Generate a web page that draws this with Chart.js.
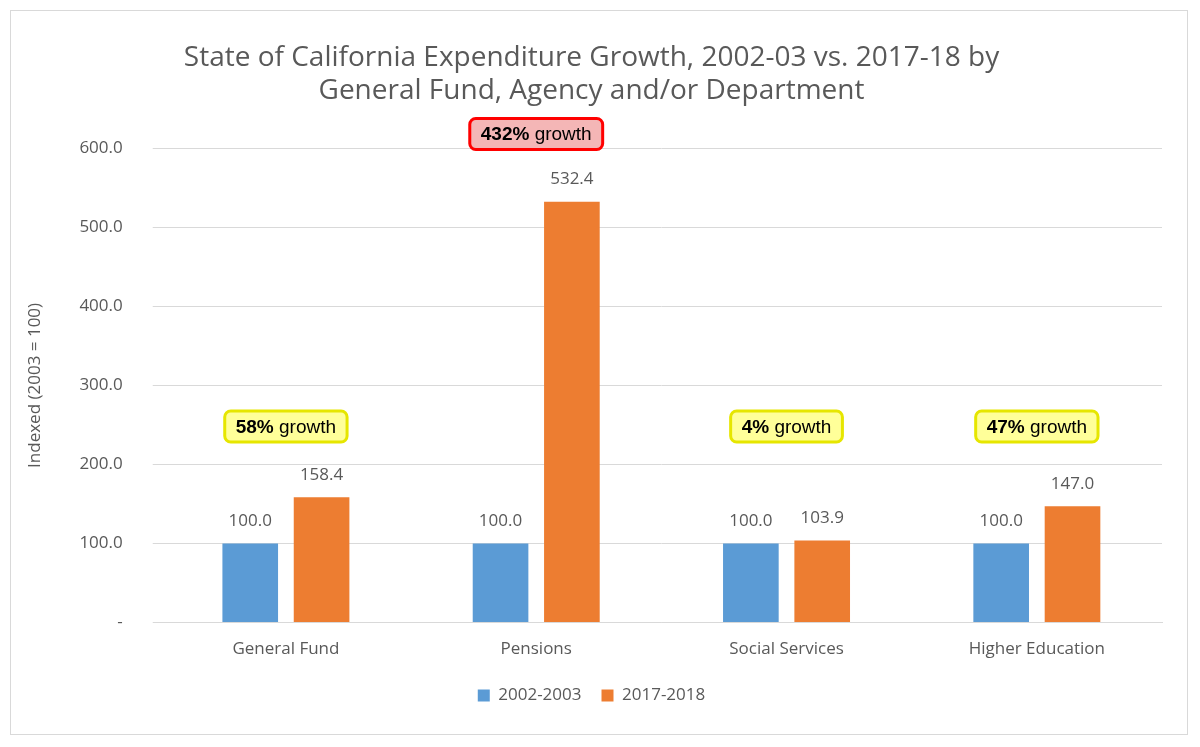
<!DOCTYPE html>
<html>
<head>
<meta charset="utf-8">
<script src="https://cdn.jsdelivr.net/npm/chart.js@4/dist/chart.umd.min.js"></script>
<style>
  body { margin: 0; background: #fff; }
  #frame { position: absolute; left: 10px; top: 10px; width: 1176px; height: 723px; border: 1px solid #d9d9d9; }
  #wrap { position: absolute; left: 0; top: 0; width: 1176px; height: 723px; }
</style>
</head>
<body>
<div id="frame"><div id="wrap"><canvas id="chart"></canvas></div></div>
<script>
// Chart data
const categories = ['General Fund', 'Pensions', 'Social Services', 'Higher Education'];
const series2002 = [100.0, 100.0, 100.0, 100.0];
const series2017 = [158.4, 532.4, 103.9, 147.0];
const growthPct = ['58%', '432%', '4%', '47%'];
const growthY = [248, 618, 248, 248];
const highlightIdx = 1;

const FONT = "'Open Sans', sans-serif";
const GRAY = '#595959';

// Value labels above bars
const valueLabels = {
    id: 'valueLabels',
    afterDatasetsDraw(chart) {
        const ctx = chart.ctx;
        ctx.save();
        ctx.font = '17px ' + FONT;
        ctx.fillStyle = GRAY;
        ctx.textAlign = 'center';
        ctx.textBaseline = 'bottom';
        chart.data.datasets.forEach((ds, i) => {
            chart.getDatasetMeta(i).data.forEach((bar, j) => {
                ctx.fillText(ds.data[j].toFixed(1), bar.x, bar.y - 14);
            });
        });
        ctx.restore();
    }
};

// Growth callout boxes
const growthBoxes = {
    id: 'growthBoxes',
    afterDraw(chart) {
        const ctx = chart.ctx;
        const xs = chart.scales.x, ys = chart.scales.y;
        ctx.save();
        ctx.textBaseline = 'middle';
        growthPct.forEach((pct, i) => {
            const cx = xs.getPixelForValue(i);
            const cy = ys.getPixelForValue(growthY[i]);
            ctx.font = 'bold 19px Arial, sans-serif';
            const w1 = ctx.measureText(pct).width;
            ctx.font = '19px Arial, sans-serif';
            const w2 = ctx.measureText(' growth').width;
            const w = w1 + w2 + 22, h = 31;
            const x0 = cx - w / 2, y0 = cy - h / 2;
            const hi = i === highlightIdx;
            ctx.beginPath();
            ctx.roundRect(x0, y0, w, h, 6);
            ctx.fillStyle = hi ? '#f4b6b6' : '#ffff99';
            ctx.fill();
            ctx.lineWidth = 3;
            ctx.strokeStyle = hi ? '#ff0000' : '#e6e600';
            ctx.stroke();
            ctx.fillStyle = '#000';
            ctx.textAlign = 'left';
            ctx.font = 'bold 19px Arial, sans-serif';
            ctx.fillText(pct, x0 + 11, cy + 1);
            ctx.font = '19px Arial, sans-serif';
            ctx.fillText(' growth', x0 + 11 + w1, cy + 1);
        });
        ctx.restore();
    }
};

new Chart(document.getElementById('chart'), {
    type: 'bar',
    data: {
        labels: categories,
        datasets: [
            { label: '2002-2003', data: series2002, backgroundColor: '#5b9bd5' },
            { label: '2017-2018', data: series2017, backgroundColor: '#ed7d31' }
        ]
    },
    options: {
        responsive: true,
        maintainAspectRatio: false,
        animation: false,
        categoryPercentage: 0.57,
        barPercentage: 0.78,
        layout: { padding: { left: 10, right: 25, top: 20, bottom: 20 } },
        scales: {
            x: {
                grid: { display: false },
                border: { color: '#d9d9d9' },
                ticks: { color: GRAY, font: { family: FONT, size: 17 }, padding: 8 }
            },
            y: {
                min: 0,
                max: 600,
                ticks: {
                    stepSize: 100,
                    color: GRAY,
                    padding: 30,
                    font: { family: FONT, size: 17 },
                    callback: v => v === 0 ? '-' : v.toFixed(1)
                },
                grid: { color: '#d9d9d9' },
                border: { display: false },
                title: { display: true, text: 'Indexed (2003 = 100)', color: GRAY, font: { family: FONT, size: 17 } }
            }
        },
        plugins: {
            title: {
                display: true,
                text: ['State of California Expenditure Growth, 2002-03 vs. 2017-18 by', 'General Fund, Agency and/or Department'],
                color: GRAY,
                font: { family: FONT, size: 28, weight: 'normal' },
                padding: { top: 10, bottom: 40 }
            },
            legend: {
                position: 'bottom',
                labels: { color: GRAY, font: { family: FONT, size: 17 }, boxWidth: 12, boxHeight: 12, padding: 20 }
            },
            tooltip: { enabled: false }
        }
    },
    plugins: [valueLabels, growthBoxes]
});
</script>
</body>
</html>
